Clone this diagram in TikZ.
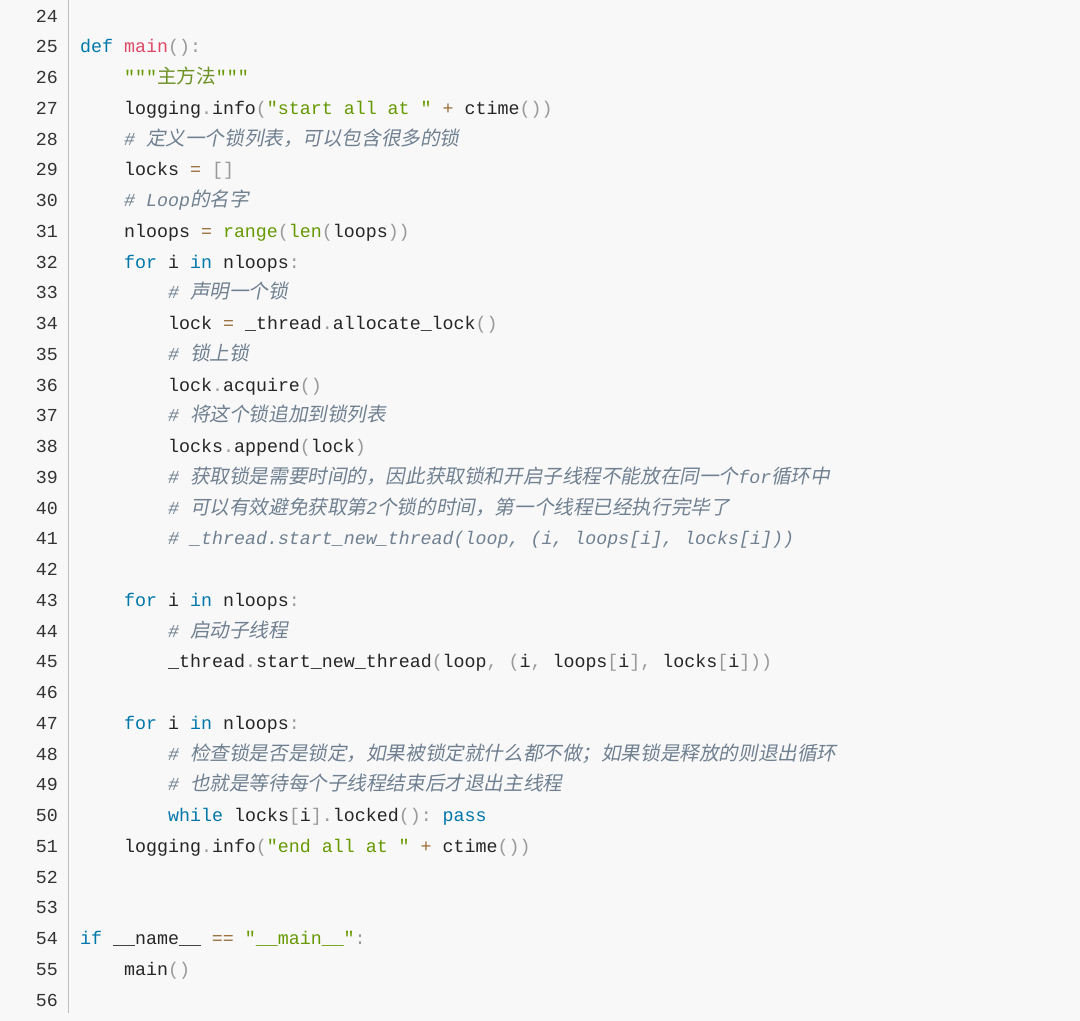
\documentclass[tikz,border=0pt]{standalone}
\usepackage{fontspec}
\setmonofont{Liberation Mono}
\newfontfamily\cjk[FakeSlant=0.2,Scale=1.07]{Noto Sans CJK SC}
\newfontfamily\cjkup[Scale=1.07]{Noto Sans CJK SC}
\definecolor{kwc}{HTML}{0077AA}
\definecolor{fnc}{HTML}{DD4A68}
\definecolor{stc}{HTML}{669900}
\definecolor{puc}{HTML}{999999}
\definecolor{opc}{HTML}{9A6E3A}
\definecolor{cmc}{HTML}{708090}
\definecolor{bgc}{HTML}{F8F8F8}
\newcommand\kw[1]{\textcolor{kwc}{#1}}
\newcommand\fnm[1]{\textcolor{fnc}{#1}}
\newcommand\st[1]{\textcolor{stc}{#1}}
\newcommand\pu[1]{\textcolor{puc}{#1}}
\newcommand\op[1]{\textcolor{opc}{#1}}
\newcommand\cm[1]{\textcolor{cmc}{\itshape #1}}
\newcommand\cj[1]{{\cjk #1}}
\newcommand\codeln[3]{\node[code] (c#1) at ({80+#2*11},{-22-(#1-24)*30.75}) {#3};}
\tikzset{code/.style={anchor=base west,inner sep=0pt,font=\ttfamily\fontsize{18.3}{20}\selectfont,text=black!85},
lnum/.style={anchor=base east,inner sep=0pt,font=\ttfamily\fontsize{18.3}{20}\selectfont,text=black!80}}
\begin{document}
\begin{tikzpicture}[x=1pt,y=1pt]
\fill[bgc] (0,0) rectangle (1080,-1021);
\useasboundingbox (0,0) rectangle (1080,-1021);
\draw[black!25,line width=1pt] (68.5,0) -- (68.5,-1013);
\foreach \n in {24,...,56}{
  \node[lnum] (ln\n) at (58,{-22-(\n-24)*30.75}) {\n};}
\codeln{25}{0}{\kw{def} \fnm{main}\pu{():}}
\codeln{26}{4}{\st{"""{\cjkup\color{stc!70!gray} 主方法}"""}}
\codeln{27}{4}{logging\pu{.}info\pu{(}\st{"start all at "} \op{+} ctime\pu{())}}
\codeln{28}{4}{\cm{\# \cj{定义一个锁列表，可以包含很多的锁}}}
\codeln{29}{4}{locks \op{=} \pu{[]}}
\codeln{30}{4}{\cm{\# Loop\cj{的名字}}}
\codeln{31}{4}{nloops \op{=} \st{range}\pu{(}\st{len}\pu{(}loops\pu{))}}
\codeln{32}{4}{\kw{for} i \kw{in} nloops\pu{:}}
\codeln{33}{8}{\cm{\# \cj{声明一个锁}}}
\codeln{34}{8}{lock \op{=} \_thread\pu{.}allocate\_lock\pu{()}}
\codeln{35}{8}{\cm{\# \cj{锁上锁}}}
\codeln{36}{8}{lock\pu{.}acquire\pu{()}}
\codeln{37}{8}{\cm{\# \cj{将这个锁追加到锁列表}}}
\codeln{38}{8}{locks\pu{.}append\pu{(}lock\pu{)}}
\codeln{39}{8}{\cm{\# \cj{获取锁是需要时间的，因此获取锁和开启子线程不能放在同一个}for\cj{循环中}}}
\codeln{40}{8}{\cm{\# \cj{可以有效避免获取第}2\cj{个锁的时间，第一个线程已经执行完毕了}}}
\codeln{41}{8}{\cm{\# \_thread.start\_new\_thread(loop, (i, loops[i], locks[i]))}}
\codeln{43}{4}{\kw{for} i \kw{in} nloops\pu{:}}
\codeln{44}{8}{\cm{\# \cj{启动子线程}}}
\codeln{45}{8}{\_thread\pu{.}start\_new\_thread\pu{(}loop\pu{, (}i\pu{,} loops\pu{[}i\pu{],} locks\pu{[}i\pu{]))}}
\codeln{47}{4}{\kw{for} i \kw{in} nloops\pu{:}}
\codeln{48}{8}{\cm{\# \cj{检查锁是否是锁定，如果被锁定就什么都不做；如果锁是释放的则退出循环}}}
\codeln{49}{8}{\cm{\# \cj{也就是等待每个子线程结束后才退出主线程}}}
\codeln{50}{8}{\kw{while} locks\pu{[}i\pu{].}locked\pu{():} \kw{pass}}
\codeln{51}{4}{logging\pu{.}info\pu{(}\st{"end all at "} \op{+} ctime\pu{())}}
\codeln{54}{0}{\kw{if} \_\_name\_\_ \op{==} \st{"\_\_main\_\_"}\pu{:}}
\codeln{55}{4}{main\pu{()}}
\end{tikzpicture}
\end{document}
